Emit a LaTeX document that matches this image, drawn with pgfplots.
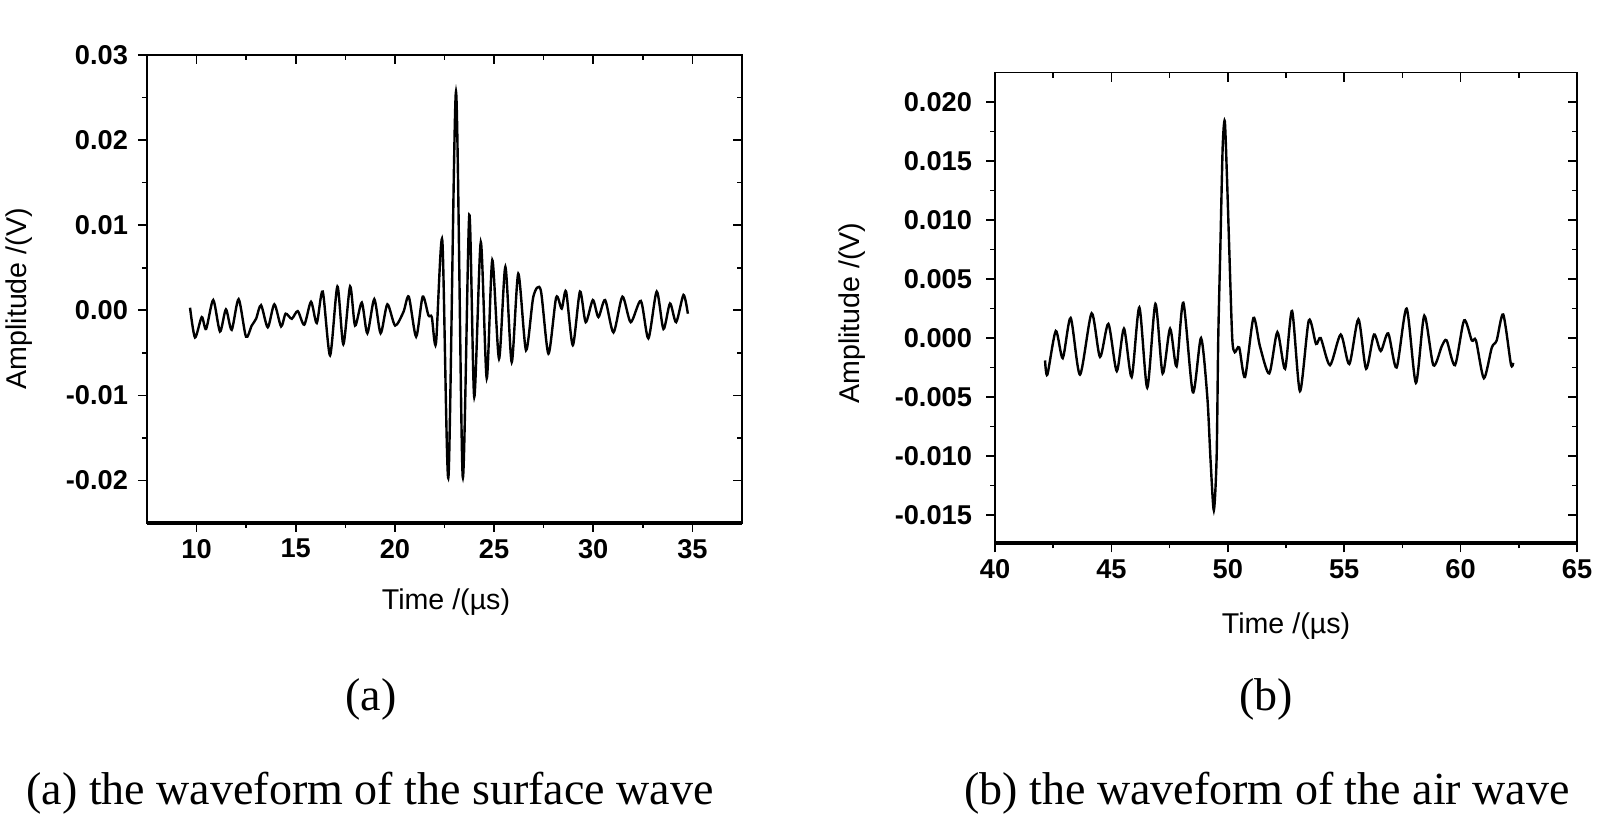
\documentclass[border=0pt]{standalone}
\usepackage{pgfplots}
\pgfplotsset{compat=1.18}
\usepackage{fontspec}
\setmainfont{Liberation Serif}
\newfontfamily\axfont{Liberation Sans}

\pgfplotstableread{
t y
9.67 0.0003
9.92 -0.0032
10.26 -0.0008
10.48 -0.0022
10.84 0.0012
11.18 -0.0025
11.48 0.0001
11.77 -0.0023
12.12 0.0013
12.49 -0.0031
12.78 -0.0018
13.00 -0.0010
13.25 0.0006
13.59 -0.0020
13.92 0.0007
14.26 -0.0019
14.49 -0.0004
14.80 -0.0010
15.10 -0.0001
15.43 -0.0017
15.77 0.0010
16.06 -0.0015
16.36 0.0022
16.73 -0.0053
17.10 0.0028
17.40 -0.0040
17.74 0.0028
17.99 -0.0018
18.33 0.0009
18.61 -0.0027
18.96 0.0013
19.28 -0.0027
19.62 0.0007
20.01 -0.0018
20.43 -0.0002
20.70 0.0016
21.07 -0.0031
21.40 0.0016
21.69 -0.0006
21.86 -0.0008
22.07 -0.0039
22.39 0.0082
22.70 -0.0196
23.08 0.0257
23.42 -0.0196
23.75 0.0112
24.00 -0.0102
24.33 0.0080
24.63 -0.0080
24.91 0.0059
25.25 -0.0057
25.57 0.0051
25.89 -0.0061
26.22 0.0043
26.61 -0.0047
26.98 0.0016
27.35 0.0024
27.74 -0.0051
28.13 0.0015
28.41 0.0002
28.63 0.0022
28.97 -0.0041
29.33 0.0022
29.62 -0.0014
29.98 0.0012
30.26 -0.0008
30.60 0.0012
31.02 -0.0026
31.47 0.0016
31.89 -0.0014
32.40 0.0011
32.78 -0.0033
33.20 0.0022
33.54 -0.0022
33.87 0.0008
34.18 -0.0014
34.55 0.0018
34.77 -0.0004
}\surface

\pgfplotstableread{
t y
42.15 -0.0019
42.25 -0.0031
42.61 0.0006
42.91 -0.0017
43.25 0.0017
43.65 -0.0031
44.15 0.0021
44.51 -0.0016
44.87 0.0012
45.23 -0.0028
45.54 0.0008
45.87 -0.0033
46.20 0.0026
46.54 -0.0042
46.89 0.0029
47.20 -0.0030
47.52 0.0008
47.80 -0.0024
48.09 0.0030
48.50 -0.0046
48.85 0.0000
49.12 -0.0050
49.26 -0.0104
49.40 -0.0146
49.52 -0.0101
49.59 0.0000
49.68 0.0077
49.78 0.0162
49.87 0.0184
49.96 0.0139
50.06 0.0077
50.19 0.0000
50.30 -0.0012
50.49 -0.0008
50.74 -0.0033
51.10 0.0017
51.38 -0.0007
51.78 -0.0030
52.13 0.0005
52.46 -0.0026
52.76 0.0023
53.10 -0.0045
53.48 0.0015
53.79 -0.0005
53.99 0.0000
54.39 -0.0023
54.85 0.0003
55.22 -0.0022
55.61 0.0016
55.94 -0.0026
56.28 0.0003
56.57 -0.0011
56.89 0.0004
57.25 -0.0025
57.68 0.0025
58.08 -0.0038
58.44 0.0019
58.83 -0.0023
59.19 -0.0007
59.40 -0.0002
59.76 -0.0023
60.15 0.0015
60.48 -0.0002
60.66 -0.0002
61.00 -0.0034
61.34 -0.0008
61.55 -0.0002
61.83 0.0020
62.16 -0.0022
62.26 -0.0021
}\air

\pgfplotsset{
  wbase/.style={
    scale only axis,
    axis line style={line width=0.8pt},
    tick style={black, line width=0.8pt},
    major tick length=4.5pt, minor tick length=2.5pt,
    scaled x ticks=false, scaled y ticks=false,
    minor x tick num=1, minor y tick num=1,
    ticklabel style={font=\axfont\bfseries\fontsize{13.6}{15}\selectfont},
    label style={font=\axfont\fontsize{14.3}{16}\selectfont},
  },
  wmain/.style={wbase, tick align=outside, xtick pos=left, ytick pos=left},
  wmirror/.style={wbase, tick align=inside, xtick pos=right, ytick pos=right,
    xticklabels={}, yticklabels={}},
  wave/.style={black, line width=1.2pt, smooth, tension=0.45, no markers},
}

\begin{document}
\begin{tikzpicture}
\path[use as bounding box] (0,0) rectangle (800pt,409pt);

% ---------- (a) ----------
\begin{axis}[wmain, name=A,
  at={(73.5pt,147.5pt)}, anchor=south west,
  width=297.5pt, height=234pt,
  xmin=7.5, xmax=37.5, ymin=-0.025, ymax=0.03,
  xtick={10,15,20,25,30,35}, xticklabels={10,15,20,25,30,35},
  ytick={-0.02,-0.01,0,0.01,0.02,0.03},
  yticklabels={-0.02,-0.01,0.00,0.01,0.02,0.03},
  yticklabel style={xshift=-1.5pt},
  xlabel={Time /(µs)}, ylabel={Amplitude /(V)},
  xlabel style={at={(axis description cs:0.5025,-0.169)}, anchor=center},
  ylabel style={at={(axis description cs:-0.215,0.479)}, anchor=center, rotate=0},
]
\addplot[wave] table[x=t, y=y] {\surface};
\end{axis}
\begin{axis}[wmirror,
  at={(73.5pt,147.5pt)}, anchor=south west,
  width=297.5pt, height=234pt,
  xmin=7.5, xmax=37.5, ymin=-0.025, ymax=0.03,
  xtick={10,15,20,25,30,35},
  ytick={-0.02,-0.01,0,0.01,0.02,0.03},
]
\end{axis}
\draw[line width=2pt] (A.south west) -- (A.south east);

% ---------- (b) ----------
\begin{axis}[wmain, name=B,
  at={(497.5pt,137.35pt)}, anchor=south west,
  width=291pt, height=235.3pt,
  xmin=40, xmax=65, ymin=-0.0174, ymax=0.0225,
  xtick={40,45,50,55,60,65}, xticklabels={40,45,50,55,60,65},
  ytick={-0.015,-0.01,-0.005,0,0.005,0.01,0.015,0.02},
  yticklabels={-0.015,-0.010,-0.005,0.000,0.005,0.010,0.015,0.020},
  yticklabel style={xshift=-3.5pt},
  xlabel={Time /(µs)}, ylabel={Amplitude /(V)},
  xlabel style={at={(axis description cs:0.5,-0.175)}, anchor=center},
  ylabel style={at={(axis description cs:-0.2457,0.489)}, anchor=center, rotate=0},
]
\addplot[wave] table[x=t, y=y] {\air};
\end{axis}
\begin{axis}[wmirror,
  at={(497.5pt,137.35pt)}, anchor=south west,
  width=291pt, height=235.3pt,
  xmin=40, xmax=65, ymin=-0.0174, ymax=0.0225,
  xtick={40,45,50,55,60,65},
  ytick={-0.015,-0.01,-0.005,0,0.005,0.01,0.015,0.02},
]
\end{axis}
\draw[line width=2pt] (B.south west) -- (B.south east);

% ---------- sub-labels and captions ----------
\node[font=\fontsize{23}{26}\selectfont, anchor=center] at (185.5pt,59.25pt) {(a)};
\node[font=\fontsize{23}{26}\selectfont, anchor=center] at (633pt,59.25pt) {(b)};
\node[font=\fontsize{23}{26}\selectfont, anchor=center] at (185pt,12.5pt) {(a) the waveform of the surface wave};
\node[font=\fontsize{23}{26}\selectfont, anchor=center] at (633.5pt,12.5pt) {(b) the waveform of the air wave};
\end{tikzpicture}
\end{document}
